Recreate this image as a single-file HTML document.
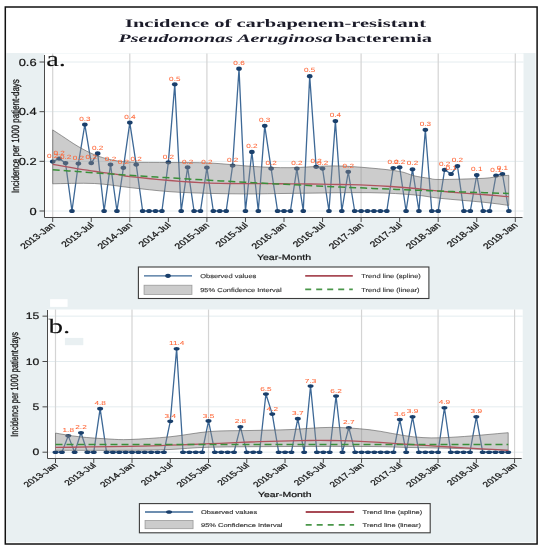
<!DOCTYPE html>
<html><head><meta charset="utf-8"><title>Incidence of carbapenem-resistant Pseudomonas Aeruginosa bacteremia</title>
<style>html,body{margin:0;padding:0;background:#fff;}svg{display:block;}</style></head>
<body><svg width="543" height="550" viewBox="0 0 543 550" text-rendering="geometricPrecision">
<rect x="0" y="0" width="543" height="550" fill="#fff"/>
<rect x="6.5" y="53" width="529" height="489.3" fill="#e9f0f2"/>
<rect x="44.5" y="53.5" width="479" height="164" fill="#fff"/>
<line x1="44.5" y1="211" x2="523.5" y2="211" stroke="#e4ecef" stroke-width="1"/>
<line x1="44.5" y1="161.34" x2="523.5" y2="161.34" stroke="#e4ecef" stroke-width="1"/>
<line x1="44.5" y1="111.68" x2="523.5" y2="111.68" stroke="#e4ecef" stroke-width="1"/>
<line x1="44.5" y1="62.02" x2="523.5" y2="62.02" stroke="#e4ecef" stroke-width="1"/>
<line x1="52.7" y1="53.5" x2="52.7" y2="217.5" stroke="#d4d4d4" stroke-width="1.2"/>
<line x1="129.8" y1="53.5" x2="129.8" y2="217.5" stroke="#d4d4d4" stroke-width="1.2"/>
<line x1="206.9" y1="53.5" x2="206.9" y2="217.5" stroke="#d4d4d4" stroke-width="1.2"/>
<line x1="361.1" y1="53.5" x2="361.1" y2="217.5" stroke="#d4d4d4" stroke-width="1.2"/>
<line x1="438.2" y1="53.5" x2="438.2" y2="217.5" stroke="#d4d4d4" stroke-width="1.2"/>
<line x1="515.3" y1="53.5" x2="515.3" y2="217.5" stroke="#d4d4d4" stroke-width="1.2"/>
<polyline points="52.7,161.59 59.12,158.61 65.55,163.08 71.97,211 78.4,163.57 84.83,124.59 91.25,163.08 97.68,153.39 104.1,211 110.53,164.57 116.95,211 123.38,167.8 129.8,122.61 136.22,164.57 142.65,211 149.07,211 155.5,211 161.93,211 168.35,162.33 174.78,84.37 181.2,211 187.62,167.3 194.05,211 200.48,211 206.9,167.55 213.32,211 219.75,211 226.18,211 232.6,165.56 239.02,68.72 245.45,211 251.88,151.9 258.3,211 264.73,125.83 271.15,168.54 277.57,211 284,211 290.43,211 296.85,168.54 303.27,211 309.7,76.17 316.12,166.8 322.55,168.54 328.97,211 335.4,121.12 341.82,211 348.25,171.77 354.67,211 361.1,211 367.52,211 373.95,211 380.38,211 386.8,211 393.22,168.04 399.65,167.3 406.07,211 412.5,169.29 418.92,211 425.35,129.81 431.77,211 438.2,211 444.62,169.78 451.05,174 457.47,166.06 463.9,211 470.32,211 476.75,175 483.17,211 489.6,211 496.02,175.49 502.45,174 508.88,211" fill="none" stroke="#3d6896" stroke-width="1.3" stroke-linejoin="round"/>
<ellipse cx="52.7" cy="161.59" rx="2.8" ry="2.1" fill="#1a3f6b"/>
<ellipse cx="59.12" cy="158.61" rx="2.8" ry="2.1" fill="#1a3f6b"/>
<ellipse cx="65.55" cy="163.08" rx="2.8" ry="2.1" fill="#1a3f6b"/>
<ellipse cx="71.97" cy="211" rx="2.8" ry="2.1" fill="#1a3f6b"/>
<ellipse cx="78.4" cy="163.57" rx="2.8" ry="2.1" fill="#1a3f6b"/>
<ellipse cx="84.83" cy="124.59" rx="2.8" ry="2.1" fill="#1a3f6b"/>
<ellipse cx="91.25" cy="163.08" rx="2.8" ry="2.1" fill="#1a3f6b"/>
<ellipse cx="97.68" cy="153.39" rx="2.8" ry="2.1" fill="#1a3f6b"/>
<ellipse cx="104.1" cy="211" rx="2.8" ry="2.1" fill="#1a3f6b"/>
<ellipse cx="110.53" cy="164.57" rx="2.8" ry="2.1" fill="#1a3f6b"/>
<ellipse cx="116.95" cy="211" rx="2.8" ry="2.1" fill="#1a3f6b"/>
<ellipse cx="123.38" cy="167.8" rx="2.8" ry="2.1" fill="#1a3f6b"/>
<ellipse cx="129.8" cy="122.61" rx="2.8" ry="2.1" fill="#1a3f6b"/>
<ellipse cx="136.22" cy="164.57" rx="2.8" ry="2.1" fill="#1a3f6b"/>
<ellipse cx="142.65" cy="211" rx="2.8" ry="2.1" fill="#1a3f6b"/>
<ellipse cx="149.07" cy="211" rx="2.8" ry="2.1" fill="#1a3f6b"/>
<ellipse cx="155.5" cy="211" rx="2.8" ry="2.1" fill="#1a3f6b"/>
<ellipse cx="161.93" cy="211" rx="2.8" ry="2.1" fill="#1a3f6b"/>
<ellipse cx="168.35" cy="162.33" rx="2.8" ry="2.1" fill="#1a3f6b"/>
<ellipse cx="174.78" cy="84.37" rx="2.8" ry="2.1" fill="#1a3f6b"/>
<ellipse cx="181.2" cy="211" rx="2.8" ry="2.1" fill="#1a3f6b"/>
<ellipse cx="187.62" cy="167.3" rx="2.8" ry="2.1" fill="#1a3f6b"/>
<ellipse cx="194.05" cy="211" rx="2.8" ry="2.1" fill="#1a3f6b"/>
<ellipse cx="200.48" cy="211" rx="2.8" ry="2.1" fill="#1a3f6b"/>
<ellipse cx="206.9" cy="167.55" rx="2.8" ry="2.1" fill="#1a3f6b"/>
<ellipse cx="213.32" cy="211" rx="2.8" ry="2.1" fill="#1a3f6b"/>
<ellipse cx="219.75" cy="211" rx="2.8" ry="2.1" fill="#1a3f6b"/>
<ellipse cx="226.18" cy="211" rx="2.8" ry="2.1" fill="#1a3f6b"/>
<ellipse cx="232.6" cy="165.56" rx="2.8" ry="2.1" fill="#1a3f6b"/>
<ellipse cx="239.02" cy="68.72" rx="2.8" ry="2.1" fill="#1a3f6b"/>
<ellipse cx="245.45" cy="211" rx="2.8" ry="2.1" fill="#1a3f6b"/>
<ellipse cx="251.88" cy="151.9" rx="2.8" ry="2.1" fill="#1a3f6b"/>
<ellipse cx="258.3" cy="211" rx="2.8" ry="2.1" fill="#1a3f6b"/>
<ellipse cx="264.73" cy="125.83" rx="2.8" ry="2.1" fill="#1a3f6b"/>
<ellipse cx="271.15" cy="168.54" rx="2.8" ry="2.1" fill="#1a3f6b"/>
<ellipse cx="277.57" cy="211" rx="2.8" ry="2.1" fill="#1a3f6b"/>
<ellipse cx="284" cy="211" rx="2.8" ry="2.1" fill="#1a3f6b"/>
<ellipse cx="290.43" cy="211" rx="2.8" ry="2.1" fill="#1a3f6b"/>
<ellipse cx="296.85" cy="168.54" rx="2.8" ry="2.1" fill="#1a3f6b"/>
<ellipse cx="303.27" cy="211" rx="2.8" ry="2.1" fill="#1a3f6b"/>
<ellipse cx="309.7" cy="76.17" rx="2.8" ry="2.1" fill="#1a3f6b"/>
<ellipse cx="316.12" cy="166.8" rx="2.8" ry="2.1" fill="#1a3f6b"/>
<ellipse cx="322.55" cy="168.54" rx="2.8" ry="2.1" fill="#1a3f6b"/>
<ellipse cx="328.97" cy="211" rx="2.8" ry="2.1" fill="#1a3f6b"/>
<ellipse cx="335.4" cy="121.12" rx="2.8" ry="2.1" fill="#1a3f6b"/>
<ellipse cx="341.82" cy="211" rx="2.8" ry="2.1" fill="#1a3f6b"/>
<ellipse cx="348.25" cy="171.77" rx="2.8" ry="2.1" fill="#1a3f6b"/>
<ellipse cx="354.67" cy="211" rx="2.8" ry="2.1" fill="#1a3f6b"/>
<ellipse cx="361.1" cy="211" rx="2.8" ry="2.1" fill="#1a3f6b"/>
<ellipse cx="367.52" cy="211" rx="2.8" ry="2.1" fill="#1a3f6b"/>
<ellipse cx="373.95" cy="211" rx="2.8" ry="2.1" fill="#1a3f6b"/>
<ellipse cx="380.38" cy="211" rx="2.8" ry="2.1" fill="#1a3f6b"/>
<ellipse cx="386.8" cy="211" rx="2.8" ry="2.1" fill="#1a3f6b"/>
<ellipse cx="393.22" cy="168.04" rx="2.8" ry="2.1" fill="#1a3f6b"/>
<ellipse cx="399.65" cy="167.3" rx="2.8" ry="2.1" fill="#1a3f6b"/>
<ellipse cx="406.07" cy="211" rx="2.8" ry="2.1" fill="#1a3f6b"/>
<ellipse cx="412.5" cy="169.29" rx="2.8" ry="2.1" fill="#1a3f6b"/>
<ellipse cx="418.92" cy="211" rx="2.8" ry="2.1" fill="#1a3f6b"/>
<ellipse cx="425.35" cy="129.81" rx="2.8" ry="2.1" fill="#1a3f6b"/>
<ellipse cx="431.77" cy="211" rx="2.8" ry="2.1" fill="#1a3f6b"/>
<ellipse cx="438.2" cy="211" rx="2.8" ry="2.1" fill="#1a3f6b"/>
<ellipse cx="444.62" cy="169.78" rx="2.8" ry="2.1" fill="#1a3f6b"/>
<ellipse cx="451.05" cy="174" rx="2.8" ry="2.1" fill="#1a3f6b"/>
<ellipse cx="457.47" cy="166.06" rx="2.8" ry="2.1" fill="#1a3f6b"/>
<ellipse cx="463.9" cy="211" rx="2.8" ry="2.1" fill="#1a3f6b"/>
<ellipse cx="470.32" cy="211" rx="2.8" ry="2.1" fill="#1a3f6b"/>
<ellipse cx="476.75" cy="175" rx="2.8" ry="2.1" fill="#1a3f6b"/>
<ellipse cx="483.17" cy="211" rx="2.8" ry="2.1" fill="#1a3f6b"/>
<ellipse cx="489.6" cy="211" rx="2.8" ry="2.1" fill="#1a3f6b"/>
<ellipse cx="496.02" cy="175.49" rx="2.8" ry="2.1" fill="#1a3f6b"/>
<ellipse cx="502.45" cy="174" rx="2.8" ry="2.1" fill="#1a3f6b"/>
<ellipse cx="508.88" cy="211" rx="2.8" ry="2.1" fill="#1a3f6b"/>
<polygon points="52.7,129.9 54.12,130.83 56.11,132.12 58.63,133.76 61.6,135.7 65.21,138.11 69.42,140.94 73.88,143.86 78.2,146.5 82.33,148.83 86.45,151.01 90.57,153.02 94.7,154.8 98.79,156.35 102.86,157.68 107,158.82 111.3,159.8 115.33,160.61 119.19,161.24 123.78,161.72 130,162.1 138.5,162.33 148.67,162.41 159.5,162.44 170,162.5 179.91,162.55 189.75,162.56 199.72,162.66 210,163 220.91,163.72 232.25,164.71 243.47,165.72 254,166.5 263.38,167.03 272,167.43 280.62,167.66 290,167.7 300.62,167.37 312,166.74 323.38,166.15 334,165.9 343.71,166.12 352.91,166.63 361.64,167.29 370,168 378.18,168.74 386.09,169.56 393.33,170.45 399.5,171.4 404.17,172.47 407.66,173.66 410.69,174.81 414,175.8 417.81,176.59 421.72,177.25 425.52,177.81 429,178.3 431.26,178.75 432.69,179.13 435.02,179.4 440,179.5 449.36,179.39 461.75,179.11 474.27,178.72 484,178.3 489.91,177.81 493.64,177.23 496.3,176.66 499,176.2 502.05,175.87 504.84,175.62 507.16,175.43 508.8,175.3 508.8,205.4 504.79,204.86 499.15,204.1 492.13,203.21 484,202.3 473.93,201.35 462.07,200.32 450.18,199.28 440,198.3 432.66,197.38 427,196.49 421.34,195.65 414,194.9 405.11,194.2 395.38,193.54 383.95,193.02 370,192.7 351.59,192.68 329.75,192.88 308.03,193.17 290,193.4 277.19,193.56 267.5,193.73 259.06,193.85 250,193.9 240,193.87 230,193.79 220,193.63 210,193.4 200,193.12 190,192.77 180,192.32 170,191.7 159.89,190.84 149.71,189.8 139.67,188.68 130,187.6 121,186.47 112.48,185.27 103.89,184.22 94.7,183.5 83.69,183.27 71.49,183.39 60.4,183.64 52.7,183.8" fill="#8f8f8f" fill-opacity="0.45" stroke="#5a5a5a" stroke-opacity="0.6" stroke-width="1"/>
<polyline points="52.7,164.4 57.42,165.23 64.23,166.43 71.6,167.72 78,168.8 82.91,169.59 87.17,170.23 91.35,170.84 96,171.5 101.59,172.27 107.71,173.09 113.63,173.89 118.6,174.6 121.57,175.13 123.21,175.55 125.4,175.99 130,176.6 137.99,177.47 148.21,178.51 159.33,179.57 170,180.5 180,181.29 190,182.01 200,182.63 210,183.1 220,183.38 230,183.5 240,183.55 250,183.6 260,183.66 270,183.7 280,183.74 290,183.8 300,183.89 310,184 320,184.13 330,184.3 340,184.48 350,184.66 360,184.92 370,185.3 380.23,185.84 390.62,186.51 400.7,187.25 410,188 417.97,188.77 425,189.57 432.03,190.4 440,191.2 449.56,192 460.07,192.8 470.55,193.58 480,194.3 488.66,195.01 496.9,195.69 503.89,196.29 508.8,196.7" fill="none" stroke="#b0545f" stroke-width="1.3"/>
<polyline points="52.7,169.65 60.7,170.27 68.7,170.88 76.7,171.48 84.7,172.08 92.7,172.66 100.7,173.24 108.7,173.8 116.7,174.36 124.7,174.91 132.7,175.45 140.7,175.99 148.7,176.51 156.7,177.03 164.7,177.54 172.7,178.04 180.7,178.53 188.7,179.02 196.7,179.5 204.7,179.97 212.7,180.44 220.7,180.9 228.7,181.35 236.7,181.8 244.7,182.23 252.7,182.67 260.7,183.09 268.7,183.51 276.7,183.92 284.7,184.33 292.7,184.73 300.7,185.12 308.7,185.51 316.7,185.89 324.7,186.27 332.7,186.64 340.7,187.01 348.7,187.37 356.7,187.72 364.7,188.07 372.7,188.41 380.7,188.75 388.7,189.09 396.7,189.42 404.7,189.74 412.7,190.06 420.7,190.37 428.7,190.68 436.7,190.99 444.7,191.29 452.7,191.58 460.7,191.88 468.7,192.16 476.7,192.45 484.7,192.72 492.7,193 500.7,193.27 508.7,193.53 508.8,193.54" fill="none" stroke="#3a8f3a" stroke-width="1.5" stroke-dasharray="7,4"/>
<text transform="translate(52.7,157.79) scale(1.32,1)" font-size="6.2" text-anchor="middle" fill="#ff6535" font-family="Liberation Sans" font-weight="normal" font-style="normal" stroke="#ff6535" stroke-width="0.04">0.2</text>
<text transform="translate(59.12,154.81) scale(1.32,1)" font-size="6.2" text-anchor="middle" fill="#ff6535" font-family="Liberation Sans" font-weight="normal" font-style="normal" stroke="#ff6535" stroke-width="0.04">0.2</text>
<text transform="translate(65.55,159.28) scale(1.32,1)" font-size="6.2" text-anchor="middle" fill="#ff6535" font-family="Liberation Sans" font-weight="normal" font-style="normal" stroke="#ff6535" stroke-width="0.04">0.2</text>
<text transform="translate(78.4,159.77) scale(1.32,1)" font-size="6.2" text-anchor="middle" fill="#ff6535" font-family="Liberation Sans" font-weight="normal" font-style="normal" stroke="#ff6535" stroke-width="0.04">0.2</text>
<text transform="translate(84.83,120.79) scale(1.32,1)" font-size="6.2" text-anchor="middle" fill="#ff6535" font-family="Liberation Sans" font-weight="normal" font-style="normal" stroke="#ff6535" stroke-width="0.04">0.3</text>
<text transform="translate(91.25,159.28) scale(1.32,1)" font-size="6.2" text-anchor="middle" fill="#ff6535" font-family="Liberation Sans" font-weight="normal" font-style="normal" stroke="#ff6535" stroke-width="0.04">0.2</text>
<text transform="translate(97.68,149.59) scale(1.32,1)" font-size="6.2" text-anchor="middle" fill="#ff6535" font-family="Liberation Sans" font-weight="normal" font-style="normal" stroke="#ff6535" stroke-width="0.04">0.2</text>
<text transform="translate(110.53,160.77) scale(1.32,1)" font-size="6.2" text-anchor="middle" fill="#ff6535" font-family="Liberation Sans" font-weight="normal" font-style="normal" stroke="#ff6535" stroke-width="0.04">0.2</text>
<text transform="translate(123.38,164) scale(1.32,1)" font-size="6.2" text-anchor="middle" fill="#ff6535" font-family="Liberation Sans" font-weight="normal" font-style="normal" stroke="#ff6535" stroke-width="0.04">0.2</text>
<text transform="translate(129.8,118.81) scale(1.32,1)" font-size="6.2" text-anchor="middle" fill="#ff6535" font-family="Liberation Sans" font-weight="normal" font-style="normal" stroke="#ff6535" stroke-width="0.04">0.4</text>
<text transform="translate(136.22,160.77) scale(1.32,1)" font-size="6.2" text-anchor="middle" fill="#ff6535" font-family="Liberation Sans" font-weight="normal" font-style="normal" stroke="#ff6535" stroke-width="0.04">0.2</text>
<text transform="translate(168.35,158.53) scale(1.32,1)" font-size="6.2" text-anchor="middle" fill="#ff6535" font-family="Liberation Sans" font-weight="normal" font-style="normal" stroke="#ff6535" stroke-width="0.04">0.2</text>
<text transform="translate(174.78,80.57) scale(1.32,1)" font-size="6.2" text-anchor="middle" fill="#ff6535" font-family="Liberation Sans" font-weight="normal" font-style="normal" stroke="#ff6535" stroke-width="0.04">0.5</text>
<text transform="translate(187.62,163.5) scale(1.32,1)" font-size="6.2" text-anchor="middle" fill="#ff6535" font-family="Liberation Sans" font-weight="normal" font-style="normal" stroke="#ff6535" stroke-width="0.04">0.2</text>
<text transform="translate(206.9,163.75) scale(1.32,1)" font-size="6.2" text-anchor="middle" fill="#ff6535" font-family="Liberation Sans" font-weight="normal" font-style="normal" stroke="#ff6535" stroke-width="0.04">0.2</text>
<text transform="translate(232.6,161.76) scale(1.32,1)" font-size="6.2" text-anchor="middle" fill="#ff6535" font-family="Liberation Sans" font-weight="normal" font-style="normal" stroke="#ff6535" stroke-width="0.04">0.2</text>
<text transform="translate(239.02,64.92) scale(1.32,1)" font-size="6.2" text-anchor="middle" fill="#ff6535" font-family="Liberation Sans" font-weight="normal" font-style="normal" stroke="#ff6535" stroke-width="0.04">0.6</text>
<text transform="translate(251.88,148.1) scale(1.32,1)" font-size="6.2" text-anchor="middle" fill="#ff6535" font-family="Liberation Sans" font-weight="normal" font-style="normal" stroke="#ff6535" stroke-width="0.04">0.2</text>
<text transform="translate(264.73,122.03) scale(1.32,1)" font-size="6.2" text-anchor="middle" fill="#ff6535" font-family="Liberation Sans" font-weight="normal" font-style="normal" stroke="#ff6535" stroke-width="0.04">0.3</text>
<text transform="translate(271.15,164.74) scale(1.32,1)" font-size="6.2" text-anchor="middle" fill="#ff6535" font-family="Liberation Sans" font-weight="normal" font-style="normal" stroke="#ff6535" stroke-width="0.04">0.2</text>
<text transform="translate(296.85,164.74) scale(1.32,1)" font-size="6.2" text-anchor="middle" fill="#ff6535" font-family="Liberation Sans" font-weight="normal" font-style="normal" stroke="#ff6535" stroke-width="0.04">0.2</text>
<text transform="translate(309.7,72.37) scale(1.32,1)" font-size="6.2" text-anchor="middle" fill="#ff6535" font-family="Liberation Sans" font-weight="normal" font-style="normal" stroke="#ff6535" stroke-width="0.04">0.5</text>
<text transform="translate(316.12,163) scale(1.32,1)" font-size="6.2" text-anchor="middle" fill="#ff6535" font-family="Liberation Sans" font-weight="normal" font-style="normal" stroke="#ff6535" stroke-width="0.04">0.2</text>
<text transform="translate(322.55,164.74) scale(1.32,1)" font-size="6.2" text-anchor="middle" fill="#ff6535" font-family="Liberation Sans" font-weight="normal" font-style="normal" stroke="#ff6535" stroke-width="0.04">0.2</text>
<text transform="translate(335.4,117.32) scale(1.32,1)" font-size="6.2" text-anchor="middle" fill="#ff6535" font-family="Liberation Sans" font-weight="normal" font-style="normal" stroke="#ff6535" stroke-width="0.04">0.4</text>
<text transform="translate(348.25,167.97) scale(1.32,1)" font-size="6.2" text-anchor="middle" fill="#ff6535" font-family="Liberation Sans" font-weight="normal" font-style="normal" stroke="#ff6535" stroke-width="0.04">0.2</text>
<text transform="translate(393.22,164.24) scale(1.32,1)" font-size="6.2" text-anchor="middle" fill="#ff6535" font-family="Liberation Sans" font-weight="normal" font-style="normal" stroke="#ff6535" stroke-width="0.04">0.2</text>
<text transform="translate(399.65,163.5) scale(1.32,1)" font-size="6.2" text-anchor="middle" fill="#ff6535" font-family="Liberation Sans" font-weight="normal" font-style="normal" stroke="#ff6535" stroke-width="0.04">0.2</text>
<text transform="translate(412.5,165.49) scale(1.32,1)" font-size="6.2" text-anchor="middle" fill="#ff6535" font-family="Liberation Sans" font-weight="normal" font-style="normal" stroke="#ff6535" stroke-width="0.04">0.2</text>
<text transform="translate(425.35,126.01) scale(1.32,1)" font-size="6.2" text-anchor="middle" fill="#ff6535" font-family="Liberation Sans" font-weight="normal" font-style="normal" stroke="#ff6535" stroke-width="0.04">0.3</text>
<text transform="translate(444.62,165.98) scale(1.32,1)" font-size="6.2" text-anchor="middle" fill="#ff6535" font-family="Liberation Sans" font-weight="normal" font-style="normal" stroke="#ff6535" stroke-width="0.04">0.2</text>
<text transform="translate(451.05,170.2) scale(1.32,1)" font-size="6.2" text-anchor="middle" fill="#ff6535" font-family="Liberation Sans" font-weight="normal" font-style="normal" stroke="#ff6535" stroke-width="0.04">0.1</text>
<text transform="translate(457.47,162.26) scale(1.32,1)" font-size="6.2" text-anchor="middle" fill="#ff6535" font-family="Liberation Sans" font-weight="normal" font-style="normal" stroke="#ff6535" stroke-width="0.04">0.2</text>
<text transform="translate(476.75,171.2) scale(1.32,1)" font-size="6.2" text-anchor="middle" fill="#ff6535" font-family="Liberation Sans" font-weight="normal" font-style="normal" stroke="#ff6535" stroke-width="0.04">0.1</text>
<text transform="translate(496.02,171.69) scale(1.32,1)" font-size="6.2" text-anchor="middle" fill="#ff6535" font-family="Liberation Sans" font-weight="normal" font-style="normal" stroke="#ff6535" stroke-width="0.04">0.1</text>
<text transform="translate(502.45,170.2) scale(1.32,1)" font-size="6.2" text-anchor="middle" fill="#ff6535" font-family="Liberation Sans" font-weight="normal" font-style="normal" stroke="#ff6535" stroke-width="0.04">0.1</text>
<line x1="44.5" y1="55" x2="44.5" y2="217.5" stroke="#4a4a4a" stroke-width="1"/>
<line x1="44.5" y1="217.5" x2="522.5" y2="217.5" stroke="#4a4a4a" stroke-width="1"/>
<line x1="39.5" y1="211" x2="44.5" y2="211" stroke="#4a4a4a" stroke-width="1"/>
<text transform="translate(36.6,214.64) scale(1.24,1)" font-size="10.4" text-anchor="end" fill="#141414" font-family="Liberation Sans" font-weight="normal" font-style="normal" stroke="#141414" stroke-width="0.22">0</text>
<line x1="39.5" y1="161.34" x2="44.5" y2="161.34" stroke="#4a4a4a" stroke-width="1"/>
<text transform="translate(36.6,164.98) scale(1.24,1)" font-size="10.4" text-anchor="end" fill="#141414" font-family="Liberation Sans" font-weight="normal" font-style="normal" stroke="#141414" stroke-width="0.22">0.2</text>
<line x1="39.5" y1="111.68" x2="44.5" y2="111.68" stroke="#4a4a4a" stroke-width="1"/>
<text transform="translate(36.6,115.32) scale(1.24,1)" font-size="10.4" text-anchor="end" fill="#141414" font-family="Liberation Sans" font-weight="normal" font-style="normal" stroke="#141414" stroke-width="0.22">0.4</text>
<line x1="39.5" y1="62.02" x2="44.5" y2="62.02" stroke="#4a4a4a" stroke-width="1"/>
<text transform="translate(36.6,65.66) scale(1.24,1)" font-size="10.4" text-anchor="end" fill="#141414" font-family="Liberation Sans" font-weight="normal" font-style="normal" stroke="#141414" stroke-width="0.22">0.6</text>
<line x1="52.7" y1="217.5" x2="52.7" y2="222" stroke="#4a4a4a" stroke-width="1"/>
<text transform="translate(55.7,225.8) scale(1.32,1) rotate(-45)" font-size="8" text-anchor="end" fill="#141414" font-family="Liberation Sans" font-weight="normal" font-style="normal" stroke="#141414" stroke-width="0.22">2013-Jan</text>
<line x1="91.25" y1="217.5" x2="91.25" y2="222" stroke="#4a4a4a" stroke-width="1"/>
<text transform="translate(94.25,225.8) scale(1.32,1) rotate(-45)" font-size="8" text-anchor="end" fill="#141414" font-family="Liberation Sans" font-weight="normal" font-style="normal" stroke="#141414" stroke-width="0.22">2013-Jul</text>
<line x1="129.8" y1="217.5" x2="129.8" y2="222" stroke="#4a4a4a" stroke-width="1"/>
<text transform="translate(132.8,225.8) scale(1.32,1) rotate(-45)" font-size="8" text-anchor="end" fill="#141414" font-family="Liberation Sans" font-weight="normal" font-style="normal" stroke="#141414" stroke-width="0.22">2014-Jan</text>
<line x1="168.35" y1="217.5" x2="168.35" y2="222" stroke="#4a4a4a" stroke-width="1"/>
<text transform="translate(171.35,225.8) scale(1.32,1) rotate(-45)" font-size="8" text-anchor="end" fill="#141414" font-family="Liberation Sans" font-weight="normal" font-style="normal" stroke="#141414" stroke-width="0.22">2014-Jul</text>
<line x1="206.9" y1="217.5" x2="206.9" y2="222" stroke="#4a4a4a" stroke-width="1"/>
<text transform="translate(209.9,225.8) scale(1.32,1) rotate(-45)" font-size="8" text-anchor="end" fill="#141414" font-family="Liberation Sans" font-weight="normal" font-style="normal" stroke="#141414" stroke-width="0.22">2015-Jan</text>
<line x1="245.45" y1="217.5" x2="245.45" y2="222" stroke="#4a4a4a" stroke-width="1"/>
<text transform="translate(248.45,225.8) scale(1.32,1) rotate(-45)" font-size="8" text-anchor="end" fill="#141414" font-family="Liberation Sans" font-weight="normal" font-style="normal" stroke="#141414" stroke-width="0.22">2015-Jul</text>
<line x1="284" y1="217.5" x2="284" y2="222" stroke="#4a4a4a" stroke-width="1"/>
<text transform="translate(287,225.8) scale(1.32,1) rotate(-45)" font-size="8" text-anchor="end" fill="#141414" font-family="Liberation Sans" font-weight="normal" font-style="normal" stroke="#141414" stroke-width="0.22">2016-Jan</text>
<line x1="322.55" y1="217.5" x2="322.55" y2="222" stroke="#4a4a4a" stroke-width="1"/>
<text transform="translate(325.55,225.8) scale(1.32,1) rotate(-45)" font-size="8" text-anchor="end" fill="#141414" font-family="Liberation Sans" font-weight="normal" font-style="normal" stroke="#141414" stroke-width="0.22">2016-Jul</text>
<line x1="361.1" y1="217.5" x2="361.1" y2="222" stroke="#4a4a4a" stroke-width="1"/>
<text transform="translate(364.1,225.8) scale(1.32,1) rotate(-45)" font-size="8" text-anchor="end" fill="#141414" font-family="Liberation Sans" font-weight="normal" font-style="normal" stroke="#141414" stroke-width="0.22">2017-Jan</text>
<line x1="399.65" y1="217.5" x2="399.65" y2="222" stroke="#4a4a4a" stroke-width="1"/>
<text transform="translate(402.65,225.8) scale(1.32,1) rotate(-45)" font-size="8" text-anchor="end" fill="#141414" font-family="Liberation Sans" font-weight="normal" font-style="normal" stroke="#141414" stroke-width="0.22">2017-Jul</text>
<line x1="438.2" y1="217.5" x2="438.2" y2="222" stroke="#4a4a4a" stroke-width="1"/>
<text transform="translate(441.2,225.8) scale(1.32,1) rotate(-45)" font-size="8" text-anchor="end" fill="#141414" font-family="Liberation Sans" font-weight="normal" font-style="normal" stroke="#141414" stroke-width="0.22">2018-Jan</text>
<line x1="476.75" y1="217.5" x2="476.75" y2="222" stroke="#4a4a4a" stroke-width="1"/>
<text transform="translate(479.75,225.8) scale(1.32,1) rotate(-45)" font-size="8" text-anchor="end" fill="#141414" font-family="Liberation Sans" font-weight="normal" font-style="normal" stroke="#141414" stroke-width="0.22">2018-Jul</text>
<line x1="515.3" y1="217.5" x2="515.3" y2="222" stroke="#4a4a4a" stroke-width="1"/>
<text transform="translate(518.3,225.8) scale(1.32,1) rotate(-45)" font-size="8" text-anchor="end" fill="#141414" font-family="Liberation Sans" font-weight="normal" font-style="normal" stroke="#141414" stroke-width="0.22">2019-Jan</text>
<text transform="translate(18.7,136.1) scale(1.32,1) rotate(-90)" font-size="8" text-anchor="middle" fill="#141414" font-family="Liberation Sans" font-weight="normal" font-style="normal" stroke="#141414" stroke-width="0.22">Incidence per 1000 patient-days</text>
<text transform="translate(284,259.8) scale(1.32,1)" font-size="8" text-anchor="middle" fill="#141414" font-family="Liberation Sans" font-weight="normal" font-style="normal" stroke="#141414" stroke-width="0.22">Year-Month</text>
<text transform="translate(46.2,65.5) scale(1.32,1)" font-size="21.5" text-anchor="start" fill="#111" font-family="Liberation Serif" font-weight="normal" font-style="normal" stroke="#111" stroke-width="0.1">a.</text>
<rect x="138.4" y="267" width="290.5" height="31.5" fill="#fff" stroke="#3c3c3c" stroke-width="1.1"/>
<line x1="144" y1="275.8" x2="192" y2="275.8" stroke="#3d6896" stroke-width="1.3"/>
<ellipse cx="168" cy="275.8" rx="2.8" ry="2.1" fill="#1a3f6b"/>
<rect x="144" y="285.2" width="48" height="9.3" fill="#8f8f8f" fill-opacity="0.45" stroke="#5a5a5a" stroke-opacity="0.5" stroke-width="0.8"/>
<line x1="305.2" y1="275.8" x2="352.8" y2="275.8" stroke="#a84a55" stroke-width="1.8"/>
<line x1="305.2" y1="289.4" x2="352.8" y2="289.4" stroke="#4a974a" stroke-width="1.6" stroke-dasharray="6,5"/>
<text transform="translate(200.2,278.4) scale(1.3,1)" font-size="5.75" text-anchor="start" fill="#3a3a3a" font-family="Liberation Sans" font-weight="normal" font-style="normal" stroke="#3a3a3a" stroke-width="0.15">Observed values</text>
<text transform="translate(200.2,292.2) scale(1.3,1)" font-size="5.75" text-anchor="start" fill="#3a3a3a" font-family="Liberation Sans" font-weight="normal" font-style="normal" stroke="#3a3a3a" stroke-width="0.15">95% Confidence Interval</text>
<text transform="translate(361.3,278.4) scale(1.3,1)" font-size="5.75" text-anchor="start" fill="#3a3a3a" font-family="Liberation Sans" font-weight="normal" font-style="normal" stroke="#3a3a3a" stroke-width="0.15">Trend line (spline)</text>
<text transform="translate(361.3,292.2) scale(1.3,1)" font-size="5.75" text-anchor="start" fill="#3a3a3a" font-family="Liberation Sans" font-weight="normal" font-style="normal" stroke="#3a3a3a" stroke-width="0.15">Trend line (linear)</text>
<rect x="47.5" y="309.5" width="475.2" height="149" fill="#fff"/>
<line x1="47.5" y1="452.2" x2="522.7" y2="452.2" stroke="#e4ecef" stroke-width="1"/>
<line x1="47.5" y1="406.85" x2="522.7" y2="406.85" stroke="#e4ecef" stroke-width="1"/>
<line x1="47.5" y1="361.5" x2="522.7" y2="361.5" stroke="#e4ecef" stroke-width="1"/>
<line x1="47.5" y1="316.15" x2="522.7" y2="316.15" stroke="#e4ecef" stroke-width="1"/>
<line x1="55.5" y1="309.5" x2="55.5" y2="458.5" stroke="#d4d4d4" stroke-width="1.2"/>
<line x1="132.01" y1="309.5" x2="132.01" y2="458.5" stroke="#d4d4d4" stroke-width="1.2"/>
<line x1="208.52" y1="309.5" x2="208.52" y2="458.5" stroke="#d4d4d4" stroke-width="1.2"/>
<line x1="361.55" y1="309.5" x2="361.55" y2="458.5" stroke="#d4d4d4" stroke-width="1.2"/>
<line x1="438.06" y1="309.5" x2="438.06" y2="458.5" stroke="#d4d4d4" stroke-width="1.2"/>
<line x1="514.57" y1="309.5" x2="514.57" y2="458.5" stroke="#d4d4d4" stroke-width="1.2"/>
<polyline points="55.5,452.2 61.88,452.2 68.25,435.87 74.63,452.2 81,432.7 87.38,452.2 93.76,452.2 100.13,408.66 106.51,452.2 112.88,452.2 119.26,452.2 125.64,452.2 132.01,452.2 138.39,452.2 144.76,452.2 151.14,452.2 157.52,452.2 163.89,452.2 170.27,421.36 176.64,348.8 183.02,452.2 189.4,452.2 195.77,452.2 202.15,452.2 208.52,420.91 214.9,452.2 221.28,452.2 227.65,452.2 234.03,452.2 240.4,426.8 246.78,452.2 253.16,452.2 259.53,452.2 265.91,393.97 272.28,414.11 278.66,452.2 285.04,452.2 291.41,452.2 297.79,418.64 304.16,452.2 310.54,385.99 316.92,452.2 323.29,452.2 329.67,452.2 336.04,395.97 342.42,452.2 348.8,427.71 355.17,452.2 361.55,452.2 367.92,452.2 374.3,452.2 380.68,452.2 387.05,452.2 393.43,452.2 399.8,419.55 406.18,452.2 412.56,416.83 418.93,452.2 425.31,452.2 431.68,452.2 438.06,452.2 444.44,407.76 450.81,452.2 457.19,452.2 463.56,452.2 469.94,452.2 476.32,416.83 482.69,452.2 489.07,452.2 495.44,452.2 501.82,452.2 508.2,452.2" fill="none" stroke="#3d6896" stroke-width="1.3" stroke-linejoin="round"/>
<ellipse cx="55.5" cy="452.2" rx="3" ry="1.8" fill="#1a3f6b"/>
<ellipse cx="61.88" cy="452.2" rx="3" ry="1.8" fill="#1a3f6b"/>
<ellipse cx="68.25" cy="435.87" rx="3" ry="1.8" fill="#1a3f6b"/>
<ellipse cx="74.63" cy="452.2" rx="3" ry="1.8" fill="#1a3f6b"/>
<ellipse cx="81" cy="432.7" rx="3" ry="1.8" fill="#1a3f6b"/>
<ellipse cx="87.38" cy="452.2" rx="3" ry="1.8" fill="#1a3f6b"/>
<ellipse cx="93.76" cy="452.2" rx="3" ry="1.8" fill="#1a3f6b"/>
<ellipse cx="100.13" cy="408.66" rx="3" ry="1.8" fill="#1a3f6b"/>
<ellipse cx="106.51" cy="452.2" rx="3" ry="1.8" fill="#1a3f6b"/>
<ellipse cx="112.88" cy="452.2" rx="3" ry="1.8" fill="#1a3f6b"/>
<ellipse cx="119.26" cy="452.2" rx="3" ry="1.8" fill="#1a3f6b"/>
<ellipse cx="125.64" cy="452.2" rx="3" ry="1.8" fill="#1a3f6b"/>
<ellipse cx="132.01" cy="452.2" rx="3" ry="1.8" fill="#1a3f6b"/>
<ellipse cx="138.39" cy="452.2" rx="3" ry="1.8" fill="#1a3f6b"/>
<ellipse cx="144.76" cy="452.2" rx="3" ry="1.8" fill="#1a3f6b"/>
<ellipse cx="151.14" cy="452.2" rx="3" ry="1.8" fill="#1a3f6b"/>
<ellipse cx="157.52" cy="452.2" rx="3" ry="1.8" fill="#1a3f6b"/>
<ellipse cx="163.89" cy="452.2" rx="3" ry="1.8" fill="#1a3f6b"/>
<ellipse cx="170.27" cy="421.36" rx="3" ry="1.8" fill="#1a3f6b"/>
<ellipse cx="176.64" cy="348.8" rx="3" ry="1.8" fill="#1a3f6b"/>
<ellipse cx="183.02" cy="452.2" rx="3" ry="1.8" fill="#1a3f6b"/>
<ellipse cx="189.4" cy="452.2" rx="3" ry="1.8" fill="#1a3f6b"/>
<ellipse cx="195.77" cy="452.2" rx="3" ry="1.8" fill="#1a3f6b"/>
<ellipse cx="202.15" cy="452.2" rx="3" ry="1.8" fill="#1a3f6b"/>
<ellipse cx="208.52" cy="420.91" rx="3" ry="1.8" fill="#1a3f6b"/>
<ellipse cx="214.9" cy="452.2" rx="3" ry="1.8" fill="#1a3f6b"/>
<ellipse cx="221.28" cy="452.2" rx="3" ry="1.8" fill="#1a3f6b"/>
<ellipse cx="227.65" cy="452.2" rx="3" ry="1.8" fill="#1a3f6b"/>
<ellipse cx="234.03" cy="452.2" rx="3" ry="1.8" fill="#1a3f6b"/>
<ellipse cx="240.4" cy="426.8" rx="3" ry="1.8" fill="#1a3f6b"/>
<ellipse cx="246.78" cy="452.2" rx="3" ry="1.8" fill="#1a3f6b"/>
<ellipse cx="253.16" cy="452.2" rx="3" ry="1.8" fill="#1a3f6b"/>
<ellipse cx="259.53" cy="452.2" rx="3" ry="1.8" fill="#1a3f6b"/>
<ellipse cx="265.91" cy="393.97" rx="3" ry="1.8" fill="#1a3f6b"/>
<ellipse cx="272.28" cy="414.11" rx="3" ry="1.8" fill="#1a3f6b"/>
<ellipse cx="278.66" cy="452.2" rx="3" ry="1.8" fill="#1a3f6b"/>
<ellipse cx="285.04" cy="452.2" rx="3" ry="1.8" fill="#1a3f6b"/>
<ellipse cx="291.41" cy="452.2" rx="3" ry="1.8" fill="#1a3f6b"/>
<ellipse cx="297.79" cy="418.64" rx="3" ry="1.8" fill="#1a3f6b"/>
<ellipse cx="304.16" cy="452.2" rx="3" ry="1.8" fill="#1a3f6b"/>
<ellipse cx="310.54" cy="385.99" rx="3" ry="1.8" fill="#1a3f6b"/>
<ellipse cx="316.92" cy="452.2" rx="3" ry="1.8" fill="#1a3f6b"/>
<ellipse cx="323.29" cy="452.2" rx="3" ry="1.8" fill="#1a3f6b"/>
<ellipse cx="329.67" cy="452.2" rx="3" ry="1.8" fill="#1a3f6b"/>
<ellipse cx="336.04" cy="395.97" rx="3" ry="1.8" fill="#1a3f6b"/>
<ellipse cx="342.42" cy="452.2" rx="3" ry="1.8" fill="#1a3f6b"/>
<ellipse cx="348.8" cy="427.71" rx="3" ry="1.8" fill="#1a3f6b"/>
<ellipse cx="355.17" cy="452.2" rx="3" ry="1.8" fill="#1a3f6b"/>
<ellipse cx="361.55" cy="452.2" rx="3" ry="1.8" fill="#1a3f6b"/>
<ellipse cx="367.92" cy="452.2" rx="3" ry="1.8" fill="#1a3f6b"/>
<ellipse cx="374.3" cy="452.2" rx="3" ry="1.8" fill="#1a3f6b"/>
<ellipse cx="380.68" cy="452.2" rx="3" ry="1.8" fill="#1a3f6b"/>
<ellipse cx="387.05" cy="452.2" rx="3" ry="1.8" fill="#1a3f6b"/>
<ellipse cx="393.43" cy="452.2" rx="3" ry="1.8" fill="#1a3f6b"/>
<ellipse cx="399.8" cy="419.55" rx="3" ry="1.8" fill="#1a3f6b"/>
<ellipse cx="406.18" cy="452.2" rx="3" ry="1.8" fill="#1a3f6b"/>
<ellipse cx="412.56" cy="416.83" rx="3" ry="1.8" fill="#1a3f6b"/>
<ellipse cx="418.93" cy="452.2" rx="3" ry="1.8" fill="#1a3f6b"/>
<ellipse cx="425.31" cy="452.2" rx="3" ry="1.8" fill="#1a3f6b"/>
<ellipse cx="431.68" cy="452.2" rx="3" ry="1.8" fill="#1a3f6b"/>
<ellipse cx="438.06" cy="452.2" rx="3" ry="1.8" fill="#1a3f6b"/>
<ellipse cx="444.44" cy="407.76" rx="3" ry="1.8" fill="#1a3f6b"/>
<ellipse cx="450.81" cy="452.2" rx="3" ry="1.8" fill="#1a3f6b"/>
<ellipse cx="457.19" cy="452.2" rx="3" ry="1.8" fill="#1a3f6b"/>
<ellipse cx="463.56" cy="452.2" rx="3" ry="1.8" fill="#1a3f6b"/>
<ellipse cx="469.94" cy="452.2" rx="3" ry="1.8" fill="#1a3f6b"/>
<ellipse cx="476.32" cy="416.83" rx="3" ry="1.8" fill="#1a3f6b"/>
<ellipse cx="482.69" cy="452.2" rx="3" ry="1.8" fill="#1a3f6b"/>
<ellipse cx="489.07" cy="452.2" rx="3" ry="1.8" fill="#1a3f6b"/>
<ellipse cx="495.44" cy="452.2" rx="3" ry="1.8" fill="#1a3f6b"/>
<ellipse cx="501.82" cy="452.2" rx="3" ry="1.8" fill="#1a3f6b"/>
<ellipse cx="508.2" cy="452.2" rx="3" ry="1.8" fill="#1a3f6b"/>
<polygon points="55.5,433.1 59.69,433.8 65.66,434.81 72.56,435.89 79.5,436.8 86.66,437.5 94.38,438.1 102.01,438.6 108.9,439 114.32,439.32 118.79,439.56 123.59,439.64 130,439.5 138.67,439.11 148.82,438.51 159.56,437.73 170,436.8 180,435.56 190,434.04 200,432.58 210,431.5 220,430.95 230,430.73 240,430.64 250,430.5 260,430.3 270,430.12 280,429.91 290,429.6 300,429.03 310,428.29 320,427.66 330,427.4 339.91,427.57 349.75,428.02 359.72,428.76 370,429.8 380.91,431.4 392.25,433.47 403.47,435.48 414,436.9 423.04,437.61 431.11,437.89 439.63,437.8 450,437.4 464.35,436.48 481.35,435.08 497.22,433.67 508.2,432.7 508.2,450.3 497.32,449.91 481.6,449.35 464.63,448.76 450,448.3 438.72,448.02 428.86,447.84 419.57,447.69 410,447.5 400.94,447.24 392.5,446.95 382.81,446.68 370,446.5 352.81,446.41 332.5,446.39 310.94,446.43 290,446.5 269.06,446.59 247.5,446.71 227.19,446.9 210,447.2 197.19,447.7 187.5,448.34 179.06,448.99 170,449.5 160.81,449.82 152.16,450.04 142.43,450.19 130,450.3 112.05,450.36 90.25,450.35 69.7,450.32 55.5,450.3" fill="#8f8f8f" fill-opacity="0.45" stroke="#5a5a5a" stroke-opacity="0.6" stroke-width="1"/>
<polyline points="55.5,447.4 69.7,447.23 90.25,446.97 112.05,446.69 130,446.4 142.43,446.12 152.16,445.83 160.81,445.53 170,445.2 180,444.85 190,444.48 200,444.1 210,443.7 220,443.28 230,442.83 240,442.39 250,442 260,441.64 270,441.31 280,441.03 290,440.8 300,440.62 310,440.49 320,440.44 330,440.5 340,440.68 350,440.96 360,441.34 370,441.8 380,442.38 390,443.08 400,443.81 410,444.5 419.57,445.12 428.86,445.71 438.72,446.32 450,447 464.63,447.85 481.6,448.81 497.32,449.69 508.2,450.3" fill="none" stroke="#b0545f" stroke-width="1.3"/>
<polyline points="55.5,444.5 508.2,444.5" fill="none" stroke="#3a8f3a" stroke-width="1.5" stroke-dasharray="7,4"/>
<text transform="translate(68.25,432.47) scale(1.42,1)" font-size="5.8" text-anchor="middle" fill="#ff6535" font-family="Liberation Sans" font-weight="normal" font-style="normal" stroke="#ff6535" stroke-width="0.04">1.8</text>
<text transform="translate(81,429.3) scale(1.42,1)" font-size="5.8" text-anchor="middle" fill="#ff6535" font-family="Liberation Sans" font-weight="normal" font-style="normal" stroke="#ff6535" stroke-width="0.04">2.2</text>
<text transform="translate(100.13,405.26) scale(1.42,1)" font-size="5.8" text-anchor="middle" fill="#ff6535" font-family="Liberation Sans" font-weight="normal" font-style="normal" stroke="#ff6535" stroke-width="0.04">4.8</text>
<text transform="translate(170.27,417.96) scale(1.42,1)" font-size="5.8" text-anchor="middle" fill="#ff6535" font-family="Liberation Sans" font-weight="normal" font-style="normal" stroke="#ff6535" stroke-width="0.04">3.4</text>
<text transform="translate(176.64,345.4) scale(1.42,1)" font-size="5.8" text-anchor="middle" fill="#ff6535" font-family="Liberation Sans" font-weight="normal" font-style="normal" stroke="#ff6535" stroke-width="0.04">11.4</text>
<text transform="translate(208.52,417.51) scale(1.42,1)" font-size="5.8" text-anchor="middle" fill="#ff6535" font-family="Liberation Sans" font-weight="normal" font-style="normal" stroke="#ff6535" stroke-width="0.04">3.5</text>
<text transform="translate(240.4,423.4) scale(1.42,1)" font-size="5.8" text-anchor="middle" fill="#ff6535" font-family="Liberation Sans" font-weight="normal" font-style="normal" stroke="#ff6535" stroke-width="0.04">2.8</text>
<text transform="translate(265.91,390.57) scale(1.42,1)" font-size="5.8" text-anchor="middle" fill="#ff6535" font-family="Liberation Sans" font-weight="normal" font-style="normal" stroke="#ff6535" stroke-width="0.04">6.5</text>
<text transform="translate(272.28,410.71) scale(1.42,1)" font-size="5.8" text-anchor="middle" fill="#ff6535" font-family="Liberation Sans" font-weight="normal" font-style="normal" stroke="#ff6535" stroke-width="0.04">4.2</text>
<text transform="translate(297.79,415.24) scale(1.42,1)" font-size="5.8" text-anchor="middle" fill="#ff6535" font-family="Liberation Sans" font-weight="normal" font-style="normal" stroke="#ff6535" stroke-width="0.04">3.7</text>
<text transform="translate(310.54,382.59) scale(1.42,1)" font-size="5.8" text-anchor="middle" fill="#ff6535" font-family="Liberation Sans" font-weight="normal" font-style="normal" stroke="#ff6535" stroke-width="0.04">7.3</text>
<text transform="translate(336.04,392.57) scale(1.42,1)" font-size="5.8" text-anchor="middle" fill="#ff6535" font-family="Liberation Sans" font-weight="normal" font-style="normal" stroke="#ff6535" stroke-width="0.04">6.2</text>
<text transform="translate(348.8,424.31) scale(1.42,1)" font-size="5.8" text-anchor="middle" fill="#ff6535" font-family="Liberation Sans" font-weight="normal" font-style="normal" stroke="#ff6535" stroke-width="0.04">2.7</text>
<text transform="translate(399.8,416.15) scale(1.42,1)" font-size="5.8" text-anchor="middle" fill="#ff6535" font-family="Liberation Sans" font-weight="normal" font-style="normal" stroke="#ff6535" stroke-width="0.04">3.6</text>
<text transform="translate(412.56,413.43) scale(1.42,1)" font-size="5.8" text-anchor="middle" fill="#ff6535" font-family="Liberation Sans" font-weight="normal" font-style="normal" stroke="#ff6535" stroke-width="0.04">3.9</text>
<text transform="translate(444.44,404.36) scale(1.42,1)" font-size="5.8" text-anchor="middle" fill="#ff6535" font-family="Liberation Sans" font-weight="normal" font-style="normal" stroke="#ff6535" stroke-width="0.04">4.9</text>
<text transform="translate(476.32,413.43) scale(1.42,1)" font-size="5.8" text-anchor="middle" fill="#ff6535" font-family="Liberation Sans" font-weight="normal" font-style="normal" stroke="#ff6535" stroke-width="0.04">3.9</text>
<line x1="47.5" y1="310" x2="47.5" y2="458.5" stroke="#4a4a4a" stroke-width="1"/>
<line x1="47.5" y1="458.5" x2="521.7" y2="458.5" stroke="#4a4a4a" stroke-width="1"/>
<line x1="42.5" y1="452.2" x2="47.5" y2="452.2" stroke="#4a4a4a" stroke-width="1"/>
<text transform="translate(39.2,455.49) scale(1.3,1)" font-size="9.4" text-anchor="end" fill="#141414" font-family="Liberation Sans" font-weight="normal" font-style="normal" stroke="#141414" stroke-width="0.22">0</text>
<line x1="42.5" y1="406.85" x2="47.5" y2="406.85" stroke="#4a4a4a" stroke-width="1"/>
<text transform="translate(39.2,410.14) scale(1.3,1)" font-size="9.4" text-anchor="end" fill="#141414" font-family="Liberation Sans" font-weight="normal" font-style="normal" stroke="#141414" stroke-width="0.22">5</text>
<line x1="42.5" y1="361.5" x2="47.5" y2="361.5" stroke="#4a4a4a" stroke-width="1"/>
<text transform="translate(39.2,364.79) scale(1.3,1)" font-size="9.4" text-anchor="end" fill="#141414" font-family="Liberation Sans" font-weight="normal" font-style="normal" stroke="#141414" stroke-width="0.22">10</text>
<line x1="42.5" y1="316.15" x2="47.5" y2="316.15" stroke="#4a4a4a" stroke-width="1"/>
<text transform="translate(39.2,319.44) scale(1.3,1)" font-size="9.4" text-anchor="end" fill="#141414" font-family="Liberation Sans" font-weight="normal" font-style="normal" stroke="#141414" stroke-width="0.22">15</text>
<line x1="55.5" y1="458.5" x2="55.5" y2="463" stroke="#4a4a4a" stroke-width="1"/>
<text transform="translate(58.5,465.8) scale(1.42,1) rotate(-45)" font-size="7.35" text-anchor="end" fill="#141414" font-family="Liberation Sans" font-weight="normal" font-style="normal" stroke="#141414" stroke-width="0.22">2013-Jan</text>
<line x1="93.76" y1="458.5" x2="93.76" y2="463" stroke="#4a4a4a" stroke-width="1"/>
<text transform="translate(96.76,465.8) scale(1.42,1) rotate(-45)" font-size="7.35" text-anchor="end" fill="#141414" font-family="Liberation Sans" font-weight="normal" font-style="normal" stroke="#141414" stroke-width="0.22">2013-Jul</text>
<line x1="132.01" y1="458.5" x2="132.01" y2="463" stroke="#4a4a4a" stroke-width="1"/>
<text transform="translate(135.01,465.8) scale(1.42,1) rotate(-45)" font-size="7.35" text-anchor="end" fill="#141414" font-family="Liberation Sans" font-weight="normal" font-style="normal" stroke="#141414" stroke-width="0.22">2014-Jan</text>
<line x1="170.27" y1="458.5" x2="170.27" y2="463" stroke="#4a4a4a" stroke-width="1"/>
<text transform="translate(173.27,465.8) scale(1.42,1) rotate(-45)" font-size="7.35" text-anchor="end" fill="#141414" font-family="Liberation Sans" font-weight="normal" font-style="normal" stroke="#141414" stroke-width="0.22">2014-Jul</text>
<line x1="208.52" y1="458.5" x2="208.52" y2="463" stroke="#4a4a4a" stroke-width="1"/>
<text transform="translate(211.52,465.8) scale(1.42,1) rotate(-45)" font-size="7.35" text-anchor="end" fill="#141414" font-family="Liberation Sans" font-weight="normal" font-style="normal" stroke="#141414" stroke-width="0.22">2015-Jan</text>
<line x1="246.78" y1="458.5" x2="246.78" y2="463" stroke="#4a4a4a" stroke-width="1"/>
<text transform="translate(249.78,465.8) scale(1.42,1) rotate(-45)" font-size="7.35" text-anchor="end" fill="#141414" font-family="Liberation Sans" font-weight="normal" font-style="normal" stroke="#141414" stroke-width="0.22">2015-Jul</text>
<line x1="285.04" y1="458.5" x2="285.04" y2="463" stroke="#4a4a4a" stroke-width="1"/>
<text transform="translate(288.04,465.8) scale(1.42,1) rotate(-45)" font-size="7.35" text-anchor="end" fill="#141414" font-family="Liberation Sans" font-weight="normal" font-style="normal" stroke="#141414" stroke-width="0.22">2016-Jan</text>
<line x1="323.29" y1="458.5" x2="323.29" y2="463" stroke="#4a4a4a" stroke-width="1"/>
<text transform="translate(326.29,465.8) scale(1.42,1) rotate(-45)" font-size="7.35" text-anchor="end" fill="#141414" font-family="Liberation Sans" font-weight="normal" font-style="normal" stroke="#141414" stroke-width="0.22">2016-Jul</text>
<line x1="361.55" y1="458.5" x2="361.55" y2="463" stroke="#4a4a4a" stroke-width="1"/>
<text transform="translate(364.55,465.8) scale(1.42,1) rotate(-45)" font-size="7.35" text-anchor="end" fill="#141414" font-family="Liberation Sans" font-weight="normal" font-style="normal" stroke="#141414" stroke-width="0.22">2017-Jan</text>
<line x1="399.8" y1="458.5" x2="399.8" y2="463" stroke="#4a4a4a" stroke-width="1"/>
<text transform="translate(402.8,465.8) scale(1.42,1) rotate(-45)" font-size="7.35" text-anchor="end" fill="#141414" font-family="Liberation Sans" font-weight="normal" font-style="normal" stroke="#141414" stroke-width="0.22">2017-Jul</text>
<line x1="438.06" y1="458.5" x2="438.06" y2="463" stroke="#4a4a4a" stroke-width="1"/>
<text transform="translate(441.06,465.8) scale(1.42,1) rotate(-45)" font-size="7.35" text-anchor="end" fill="#141414" font-family="Liberation Sans" font-weight="normal" font-style="normal" stroke="#141414" stroke-width="0.22">2018-Jan</text>
<line x1="476.32" y1="458.5" x2="476.32" y2="463" stroke="#4a4a4a" stroke-width="1"/>
<text transform="translate(479.32,465.8) scale(1.42,1) rotate(-45)" font-size="7.35" text-anchor="end" fill="#141414" font-family="Liberation Sans" font-weight="normal" font-style="normal" stroke="#141414" stroke-width="0.22">2018-Jul</text>
<line x1="514.57" y1="458.5" x2="514.57" y2="463" stroke="#4a4a4a" stroke-width="1"/>
<text transform="translate(517.57,465.8) scale(1.42,1) rotate(-45)" font-size="7.35" text-anchor="end" fill="#141414" font-family="Liberation Sans" font-weight="normal" font-style="normal" stroke="#141414" stroke-width="0.22">2019-Jan</text>
<text transform="translate(17.6,384.4) scale(1.42,1) rotate(-90)" font-size="7.35" text-anchor="middle" fill="#141414" font-family="Liberation Sans" font-weight="normal" font-style="normal" stroke="#141414" stroke-width="0.22">Incidence per 1000 patient-days</text>
<text transform="translate(284.7,496.9) scale(1.42,1)" font-size="7.35" text-anchor="middle" fill="#141414" font-family="Liberation Sans" font-weight="normal" font-style="normal" stroke="#141414" stroke-width="0.22">Year-Month</text>
<text transform="translate(48.5,333) scale(1.42,1)" font-size="20.5" text-anchor="start" fill="#111" font-family="Liberation Serif" font-weight="normal" font-style="normal" stroke="#111" stroke-width="0.1">b.</text>
<rect x="139.4" y="503.6" width="290.8" height="29.2" fill="#fff" stroke="#3c3c3c" stroke-width="1.1"/>
<line x1="145" y1="512" x2="193.1" y2="512" stroke="#3d6896" stroke-width="1.3"/>
<ellipse cx="169.05" cy="512" rx="3" ry="1.8" fill="#1a3f6b"/>
<rect x="145" y="520.4" width="48.1" height="8.3" fill="#8f8f8f" fill-opacity="0.45" stroke="#5a5a5a" stroke-opacity="0.5" stroke-width="0.8"/>
<line x1="305.7" y1="512" x2="354.1" y2="512" stroke="#a84a55" stroke-width="1.8"/>
<line x1="305.7" y1="524.9" x2="354.1" y2="524.9" stroke="#4a974a" stroke-width="1.6" stroke-dasharray="6,5"/>
<text transform="translate(201,514.3) scale(1.36,1)" font-size="5.5" text-anchor="start" fill="#3a3a3a" font-family="Liberation Sans" font-weight="normal" font-style="normal" stroke="#3a3a3a" stroke-width="0.15">Observed values</text>
<text transform="translate(201,526.8) scale(1.36,1)" font-size="5.5" text-anchor="start" fill="#3a3a3a" font-family="Liberation Sans" font-weight="normal" font-style="normal" stroke="#3a3a3a" stroke-width="0.15">95% Confidence Interval</text>
<text transform="translate(362.6,514.3) scale(1.36,1)" font-size="5.5" text-anchor="start" fill="#3a3a3a" font-family="Liberation Sans" font-weight="normal" font-style="normal" stroke="#3a3a3a" stroke-width="0.15">Trend line (spline)</text>
<text transform="translate(362.6,526.8) scale(1.36,1)" font-size="5.5" text-anchor="start" fill="#3a3a3a" font-family="Liberation Sans" font-weight="normal" font-style="normal" stroke="#3a3a3a" stroke-width="0.15">Trend line (linear)</text>
<rect x="50.1" y="299.2" width="17.5" height="7.7" fill="#fff"/>
<rect x="64.9" y="337.9" width="18.4" height="7.3" fill="#e9f0f2"/>
<rect x="5.3" y="7" width="531.8" height="537" fill="none" stroke="#111" stroke-width="1.5"/>
<text transform="translate(125,27.2) scale(1.78,1)" font-size="11.5" font-family="Liberation Serif" font-weight="bold" fill="#1c1c2a">Incidence of carbapenem-resistant</text>
<text transform="translate(118.6,41.7) scale(1.737,1)" font-size="11.5" font-family="Liberation Serif" font-style="italic" font-weight="bold" fill="#1c1c2a">Pseudomonas Aeruginosa</text>
<text transform="translate(334.9,41.7) scale(1.775,1)" font-size="11.5" font-family="Liberation Serif" font-weight="bold" fill="#1c1c2a">bacteremia</text>
</svg></body></html>
